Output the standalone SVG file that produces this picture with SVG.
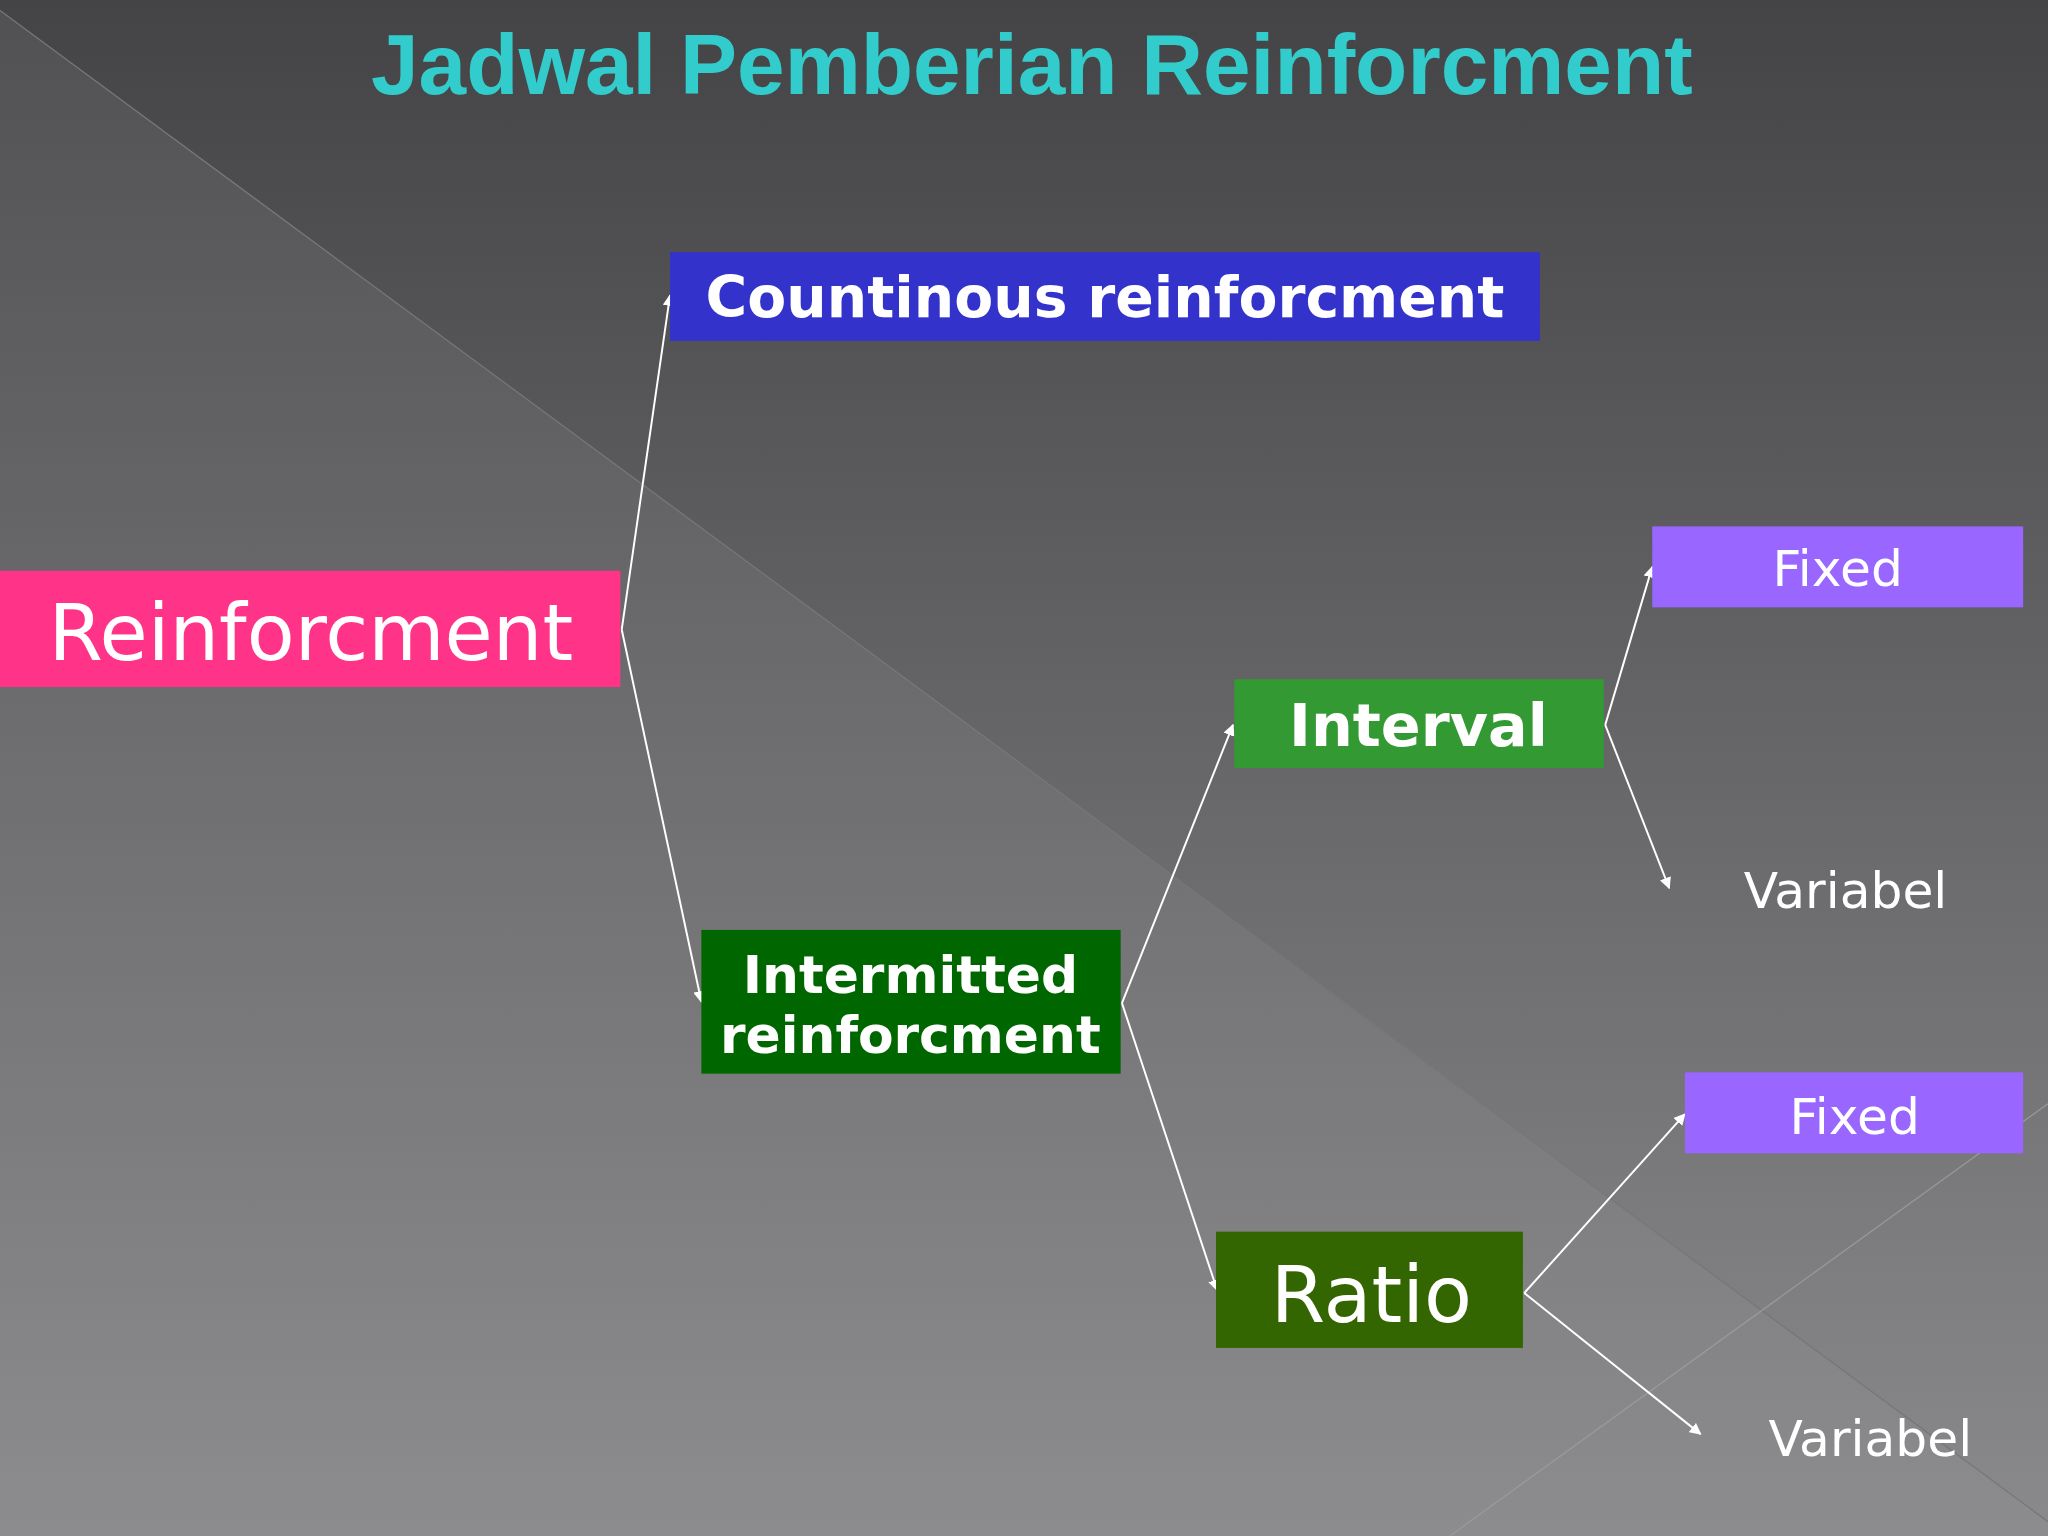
<svg xmlns="http://www.w3.org/2000/svg" width="2048" height="1536" viewBox="0 0 2048 1536">
<defs>
<linearGradient id="bg" x1="0" y1="0" x2="0" y2="1"><stop offset="0" stop-color="#444446"/><stop offset="1" stop-color="#8a898b"/></linearGradient>
<linearGradient id="bg2" x1="0" y1="0" x2="0" y2="1"><stop offset="0" stop-color="#5a5a5c"/><stop offset="1" stop-color="#8e8d8f"/></linearGradient>
<marker id="ah" viewBox="0 0 10 10" refX="9" refY="5" markerWidth="6" markerHeight="6" orient="auto"><path d="M0,0L10,5L0,10z" fill="#fff"/></marker>
<style>
.t{font-family:"DejaVu Sans",Verdana,sans-serif;fill:#fff;text-anchor:middle}
.b{font-weight:bold}
.c line{stroke:#fff;stroke-width:1.5;marker-end:url(#ah)}
</style>
</defs>
<g transform="scale(1.30612)">
<rect width="1568" height="1176" fill="url(#bg)"/>
<polygon points="0,8 1568,1165 1568,1176 0,1176" fill="url(#bg2)" opacity="0.6"/>
<line x1="0" y1="8" x2="1568" y2="1165" stroke="#777" stroke-width="1"/>
<line x1="1110" y1="1176" x2="1568" y2="845" stroke="#999" stroke-width="1"/>
<text x="790" y="72" font-family="'Liberation Sans',Arial,sans-serif" font-weight="bold" font-size="65.5" fill="#33CCCC" text-anchor="middle">Jadwal Pemberian Reinforcment</text>
<g class="c">
<line x1="476" y1="482" x2="513" y2="226"/>
<line x1="476" y1="482" x2="537" y2="767"/>
<line x1="859" y1="768" x2="944" y2="555"/>
<line x1="859" y1="768" x2="932" y2="988"/>
<line x1="1229" y1="555" x2="1265" y2="434"/>
<line x1="1229" y1="555" x2="1278" y2="680"/>
<line x1="1167" y1="990" x2="1290" y2="853"/>
<line x1="1167" y1="990" x2="1302" y2="1098"/>
</g>
<g id="reinforcment"><rect x="0" y="437" width="475" height="89" fill="#FF3388"/><text class="t" x="238" y="505" font-size="60">Reinforcment</text></g>
<g id="countinous"><rect x="513" y="193" width="666" height="68" fill="#3333CC"/><text class="t b" x="846" y="243" font-size="43.5">Countinous reinforcment</text></g>
<g id="intermitted"><rect x="537" y="712" width="321" height="110" fill="#006600"/><text class="t b" x="697" y="760" font-size="39.7">Intermitted</text><text class="t b" x="697" y="806" font-size="39.7">reinforcment</text></g>
<g id="interval"><rect x="945" y="520" width="283" height="68" fill="#339933"/><text class="t b" x="1086" y="571" font-size="45">Interval</text></g>
<g id="ratio"><rect x="931" y="943" width="235" height="89" fill="#336600"/><text class="t" x="1050" y="1012" font-size="60">Ratio</text></g>
<g id="fixed1"><rect x="1265" y="403" width="284" height="62" fill="#9966FF"/><text class="t" x="1407" y="449" font-size="38.5">Fixed</text></g>
<g id="variabel1"><text class="t" x="1413" y="695" font-size="38.5">Variabel</text></g>
<g id="fixed2"><rect x="1290" y="821" width="259" height="62" fill="#9966FF"/><text class="t" x="1420" y="868" font-size="38.5">Fixed</text></g>
<g id="variabel2"><text class="t" x="1432" y="1115" font-size="38.5">Variabel</text></g>
</g>
</svg>
